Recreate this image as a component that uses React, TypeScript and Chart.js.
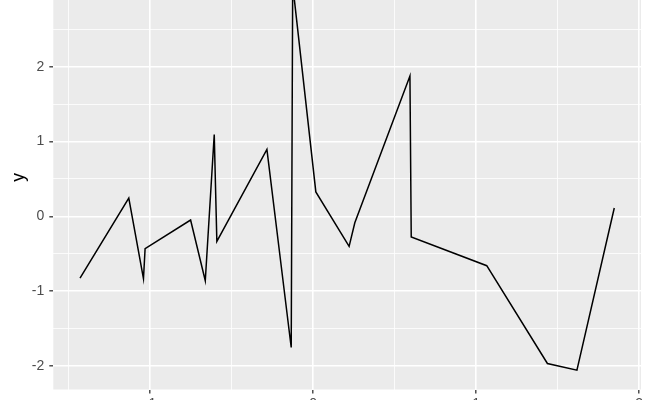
import React, { useEffect, useRef } from "react";
import { Chart, registerables } from "chart.js";

Chart.register(...registerables);

const xValues = [-1.429, -1.13, -1.04, -1.03, -0.751, -0.661, -0.606, -0.59, -0.283, -0.134, -0.125, 0.017, 0.221, 0.256, 0.594, 0.602, 1.065, 1.437, 1.618, 1.847];
const yValues = [-0.827, 0.245, -0.835, -0.433, -0.05, -0.862, 1.095, -0.335, 0.894, -1.756, 3.1, 0.326, -0.402, -0.087, 1.877, -0.277, -0.661, -1.97, -2.06, 0.111];
const xBreaks = [-1.5, -1, -0.5, 0, 0.5, 1, 1.5, 2];
const yBreaks = [-2, -1.5, -1, -0.5, 0, 0.5, 1, 1.5, 2, 2.5];
const xLimits = [-1.5929, 2.0109];
const yLimits = [-2.318, 3.358];

const isMajor = (v: number) => Math.abs(v - Math.round(v)) < 1e-9;

const panelBg = {
  id: "panelBg",
  beforeDraw(chart: any) {
    const { ctx, chartArea } = chart;
    ctx.save();
    ctx.fillStyle = "#EBEBEB";
    ctx.fillRect(chartArea.left, chartArea.top, chartArea.right - chartArea.left, chartArea.bottom - chartArea.top);
    ctx.restore();
  },
};

export default function App() {
  const ref = useRef<HTMLCanvasElement | null>(null);
  useEffect(() => {
    if (!ref.current) return;
    const gridCfg = {
      color: (c: any) => "#FFFFFF",
      lineWidth: (c: any) => (c.tick && isMajor(c.tick.value) ? 1.6 : 0.8),
      tickColor: (c: any) => (c.tick && isMajor(c.tick.value) ? "#333333" : "rgba(0,0,0,0)"),
      tickLength: 4,
      tickWidth: 1.3,
      drawTicks: true,
    };
    const font = { family: "Liberation Sans, Arial, sans-serif", size: 14 };
    const chart = new Chart(ref.current, {
      type: "line",
      data: {
        datasets: [
          {
            data: xValues.map((x, i) => ({ x, y: yValues[i] })),
            borderColor: "#000000",
            borderWidth: 1.5,
            pointRadius: 0,
            fill: false,
            tension: 0,
          },
        ],
      },
      options: {
        animation: false,
        responsive: false,
        maintainAspectRatio: false,
        layout: { padding: { left: 0, right: 9, top: 4, bottom: 0 } },
        plugins: { legend: { display: false }, tooltip: { enabled: false } },
        scales: {
          x: {
            type: "linear",
            min: xLimits[0],
            max: xLimits[1],
            afterBuildTicks: (s: any) => {
              s.ticks = xBreaks.map((v) => ({ value: v }));
            },
            afterFit: (s: any) => {
              s.height = 32.5;
            },
            border: { display: false },
            grid: gridCfg as any,
            ticks: {
              autoSkip: false,
              maxRotation: 0,
              padding: 2,
              color: "#4D4D4D",
              font,
              callback: (v: any) => (isMajor(Number(v)) ? String(Math.round(Number(v))) : ""),
            },
          },
          y: {
            type: "linear",
            min: yLimits[0],
            max: yLimits[1],
            afterBuildTicks: (s: any) => {
              s.ticks = yBreaks.map((v) => ({ value: v }));
            },
            afterFit: (s: any) => {
              s.width = 53.3;
            },
            border: { display: false },
            grid: gridCfg as any,
            title: {
              display: true,
              text: "y",
              color: "#000000",
              font: { family: "Liberation Sans, Arial, sans-serif", size: 17.6 },
              padding: { top: 9, bottom: 0 },
            },
            ticks: {
              autoSkip: false,
              padding: 5,
              color: "#4D4D4D",
              font,
              callback: (v: any) => (isMajor(Number(v)) ? String(Math.round(Number(v))) : ""),
            },
          },
        },
      },
      plugins: [panelBg],
    });
    return () => chart.destroy();
  }, []);
  return (
    <div style={{ position: "absolute", left: 0, top: -48, width: 650, height: 470, background: "#FFFFFF" }}>
      <canvas ref={ref} width={650} height={470} style={{ display: "block", width: 650, height: 470 }} />
    </div>
  );
}
